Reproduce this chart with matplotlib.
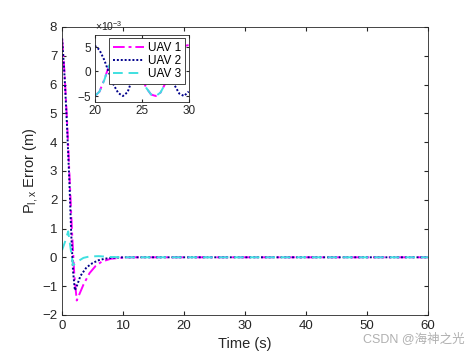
import numpy as np
import matplotlib
matplotlib.use("Agg")
import matplotlib.pyplot as plt
from matplotlib.ticker import ScalarFormatter

plt.rcParams['font.family'] = ['Liberation Sans', 'Noto Sans CJK SC']
plt.rcParams['mathtext.fontset'] = 'custom'
plt.rcParams['mathtext.rm'] = 'Liberation Sans'

# main plot: transient of the x position error
t1 = [0, 0.4, 0.8, 1.2, 1.6, 2.0, 2.4, 2.8, 3.5, 4.5, 5.5, 6.5, 8, 10, 12, 20, 30, 40, 50, 60]
uav1 = [7.6, 6.4, 4.8, 2.9, 1.0, -0.6, -1.5, -1.3, -0.95, -0.55, -0.3, -0.15, -0.05, -0.01, 0, 0, 0, 0, 0, 0]

t2 = [0, 0.4, 0.8, 1.2, 1.5, 1.8, 2.1, 2.5, 3, 4, 5, 6, 7, 8, 10, 20, 30, 40, 50, 60]
uav2 = [7.6, 6.3, 4.6, 2.6, 0.8, -0.5, -1.15, -0.95, -0.65, -0.35, -0.2, -0.1, -0.05, -0.02, 0, 0, 0, 0, 0, 0]

t3 = [0, 0.5, 1.0, 1.4, 1.8, 2.5, 3.5, 4.5, 6, 8, 10, 20, 30, 40, 50, 60]
uav3 = [0.25, 0.55, 0.9, 0.3, -0.28, -0.15, -0.02, 0.03, 0.04, 0.01, 0, 0, 0, 0, 0, 0]

# zoomed steady state, t = 20..30 (values in 1e-3 m)
t_zoom = [20, 20.5, 21, 21.5, 22, 22.5, 23, 23.5, 24, 24.5, 25,
          25.5, 26, 26.5, 27, 27.5, 28, 28.5, 29, 29.5, 30]
z1 = [-5.1, -4.2, -1.8, 1.0, 3.3, 4.7, 5.2, 4.9, 3.6, 1.4, -1.3,
      -3.5, -4.8, -5.1, -4.4, -2.6, -0.6, 1.8, 3.9, 5.1, 5.3]
z2 = [5.2, 4.3, 2.3, -0.3, -2.8, -4.5, -5.1, -4.3, -1.6, 1.2, 3.5,
      4.8, 5.2, 4.9, 3.6, 1.6, -0.6, -2.9, -4.6, -5.1, -4.2]
z3 = [-5.1, -4.2, -1.9, 0.9, 3.3, 4.7, 5.2, 4.9, 3.6, 1.4, -1.3,
      -3.5, -4.8, -5.1, -4.4, -2.6, -0.6, 1.8, 3.9, 5.1, 5.3]

c1 = '#FF00FF'
c2 = '#00008B'
c3 = '#3FE0E0'
grey = '#262626'

st1 = dict(color=c1, lw=1.4, dashes=(6, 2, 1.5, 2))
st2 = dict(color=c2, lw=1.4, dashes=(1, 1))
st3 = dict(color=c3, lw=1.4, dashes=(5, 3))

fig = plt.figure(figsize=(4.74, 3.55), dpi=100)
ax = fig.add_axes([0.131, 0.113, 0.772, 0.811])

ax.plot(t1, uav1, **st1)
ax.plot(t2, uav2, **st2)
ax.plot(t3, uav3, **st3)

ax.set_xlim(0, 60)
ax.set_ylim(-2, 8)
ax.set_xticks(range(0, 61, 10))
ax.set_yticks(range(-2, 9))
ax.tick_params(direction='in', top=True, right=True, labelsize=9.5, colors=grey, length=3)
for s in ax.spines.values():
    s.set_color(grey)
    s.set_linewidth(0.6)
ax.set_xlabel('Time (s)', fontsize=10.5, color=grey, labelpad=4)
ax.set_ylabel(r'P$_{\mathrm{l,x}}$ Error (m)', fontsize=10.5, color=grey, labelpad=1)

# inset
ins = fig.add_axes([0.200, 0.713, 0.198, 0.189])
ins.plot(t_zoom, np.array(z1) * 1e-3, label='UAV 1', **st1)
ins.plot(t_zoom, np.array(z2) * 1e-3, label='UAV 2', **st2)
ins.plot(t_zoom, np.array(z3) * 1e-3, label='UAV 3', **st3)
ins.set_xlim(20, 30)
ins.set_ylim(-0.0063, 0.0074)
ins.set_xticks([20, 25, 30])
ins.set_yticks([-0.005, 0, 0.005])
fmt = ScalarFormatter(useMathText=True)
fmt.set_powerlimits((-3, -3))
ins.yaxis.set_major_formatter(fmt)
ins.yaxis.get_offset_text().set_fontsize(7.5)
ins.yaxis.get_offset_text().set_color(grey)
ins.tick_params(direction='in', top=True, right=True, labelsize=8.5, colors=grey, length=2, pad=2)
for s in ins.spines.values():
    s.set_color(grey)
    s.set_linewidth(0.6)
leg = ins.legend(loc='upper right', fontsize=8.5, handlelength=2.6, borderpad=0.3,
                 labelspacing=0.1, handletextpad=0.4, fancybox=False,
                 framealpha=1, edgecolor=grey, borderaxespad=0.3)
leg.get_frame().set_linewidth(0.6)

fig.text(0.98, 0.045, 'CSDN @海神之光', ha='right', va='center', fontsize=9,
         color='#b0b0b0', family=['Liberation Sans', 'Noto Sans CJK SC'])

fig.savefig('out.png', dpi=100)
